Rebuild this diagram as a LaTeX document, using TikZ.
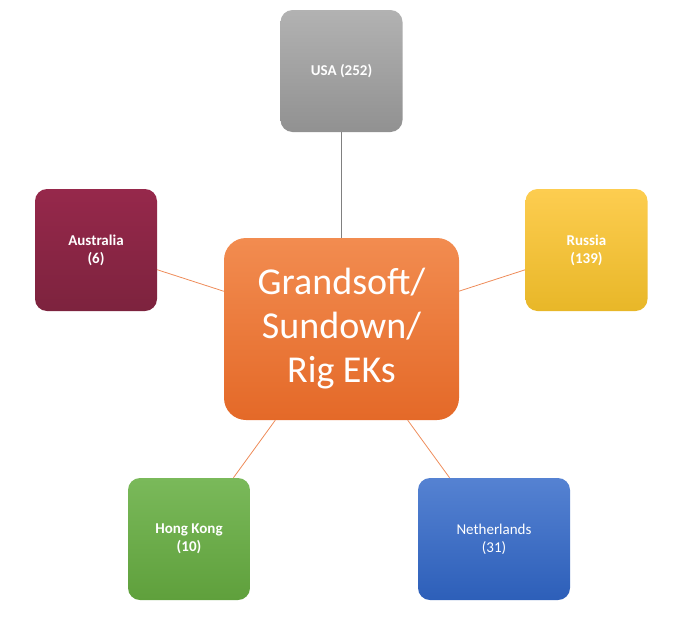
\documentclass[tikz,border=0pt]{standalone}
\usepackage{fontspec}
\setmainfont{Carlito}
\usetikzlibrary{backgrounds}
\definecolor{linkor}{RGB}{238,140,90}
\definecolor{ausT}{RGB}{150,40,75}\definecolor{ausB}{RGB}{125,35,62}
\definecolor{rusT}{RGB}{253,205,80}\definecolor{rusB}{RGB}{232,183,40}
\definecolor{ekT}{RGB}{242,140,80}\definecolor{ekB}{RGB}{228,105,40}
\definecolor{hkT}{RGB}{122,185,90}\definecolor{hkB}{RGB}{95,160,60}
\definecolor{nlT}{RGB}{85,130,210}\definecolor{nlB}{RGB}{45,95,185}
\definecolor{usT}{RGB}{178,178,178}\definecolor{usB}{RGB}{145,145,145}
\begin{document}
\begin{tikzpicture}[x=1pt,y=-1pt,
 box/.style={rounded corners=12pt,minimum width=122pt,minimum height=122pt,align=center,text=white,font=\fontsize{15}{18}\selectfont\bfseries,inner sep=2pt},
 link/.style={draw=#1,line width=0.8pt}]
\useasboundingbox (0,0) rectangle (685,621);
\node[box,top color=usT,bottom color=usB] (usa) at (341.5,71) {USA (252)};
\node[box,top color=ausT,bottom color=ausB] (aus) at (96,250) {Australia\\(6)};
\node[box,top color=rusT,bottom color=rusB] (rus) at (586.5,250) {Russia\\(139)};
\node[box,minimum width=235pt,minimum height=182pt,rounded corners=22pt,font=\fontsize{38}{44}\selectfont,top color=ekT,bottom color=ekB] (ek) at (341.5,329) {Grandsoft/\\Sundown/\\Rig EKs};
\node[box,top color=hkT,bottom color=hkB] (hk) at (189,539) {Hong Kong\\(10)};
\node[box,minimum width=152pt,font=\fontsize{15}{18}\selectfont,top color=nlT,bottom color=nlB] (nl) at (494,539) {Netherlands\\(31)};
\begin{scope}[on background layer]
\draw[link=gray] (usa) -- (ek);
\draw[link=linkor] (aus) -- (ek);
\draw[link=linkor] (rus) -- (ek);
\draw[link=linkor] (hk) -- (ek);
\draw[link=linkor] (nl) -- (ek);
\end{scope}
\end{tikzpicture}
\end{document}
